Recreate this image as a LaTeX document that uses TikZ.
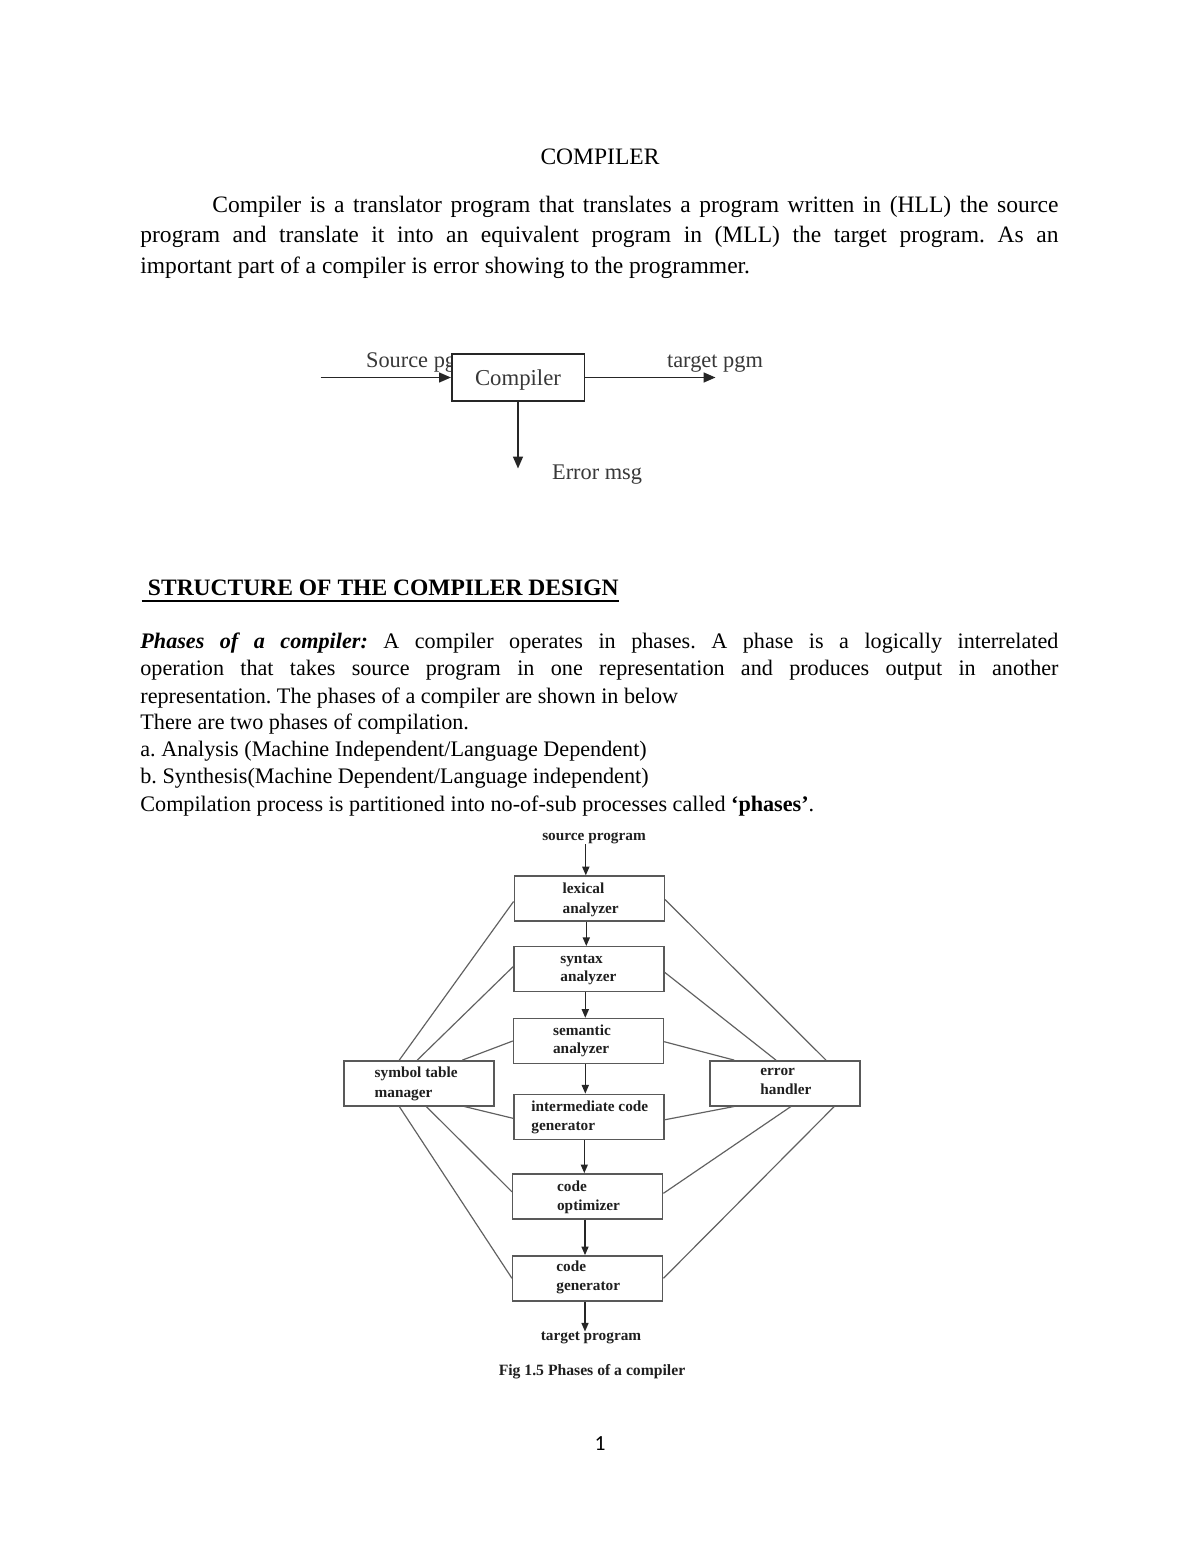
\documentclass[tikz,border=0pt]{standalone}
\usepackage{fontspec}
\setmainfont{Liberation Serif}
\newfontfamily\calibri{Carlito}
\usetikzlibrary{arrows.meta,calc}
\frenchspacing
\tikzset{
  bodytext/.style={inner sep=0pt, anchor=base west, font=\fontsize{12}{14}\selectfont},
  phtext/.style={inner sep=0pt, anchor=base west, font=\fontsize{11.3}{13.8}\selectfont},
  toptext/.style={inner sep=0pt, anchor=base west, text=black!78, font=\fontsize{11.4}{13}\selectfont},
  topbox/.style={draw=black!85, line width=0.8pt, fill=white, minimum width=67.6pt, minimum height=24pt, inner sep=0pt, text depth=0pt, text=black!78, font=\fontsize{11.6}{13}\selectfont},
  toparr/.style={draw=black!85, line width=0.8pt, -{Triangle[length=6pt,width=5pt]}},
  phbox/.style={draw=black!65, line width=0.75pt, fill=white, minimum width=76.5pt, minimum height=22.9pt, inner sep=0pt},
  boxlabel/.style={inner sep=0pt, anchor=base west, text=black!88, font=\bfseries\fontsize{7.8}{9}\selectfont},
  flowarr/.style={draw=black!85, line width=0.7pt, -{Triangle[length=4.4pt,width=3.6pt]}},
  link/.style={draw=black!62, line width=0.6pt}
}
\begin{document}
\begin{tikzpicture}[x=0.51pt,y=-0.51pt]
\useasboundingbox[fill=white] (0,0) rectangle (1200,1553);

% ---- title and first paragraph
\node[bodytext, anchor=base] (title) at (600,164.5) {COMPILER};
\node[bodytext] (p1a) at (212,212.5) {\makebox[431.5pt][s]{Compiler is a translator program that translates a program written in (HLL) the source}};
\node[bodytext] (p1b) at (140,243) {\makebox[468.2pt][s]{program and translate it into an equivalent program in (MLL) the target program. As an}};
\node[bodytext] (p1c) at (140,273.5) {important part of a compiler is error showing to the programmer.};

% ---- top diagram
\node[toptext] (srclbl) at (365.7,367.7) {Source pg};
\node[toptext] (tgtlbl) at (666.7,367.7) {target pgm};
\node[toptext] (errlbl) at (551.7,479) {Error msg};
\node[topbox] (comp) at (518,377.5) {Compiler};
\coordinate (inpt) at (320.7,377.5);
\coordinate (outpt) at (715.5,377.5);
\coordinate (errpt) at (518,468.5);
\draw[toparr] (inpt) -- (comp.west);
\draw[toparr] (comp.east) -- (outpt);
\draw[toparr] (comp.south) -- (errpt);

% ---- section heading
\node[inner sep=0pt, anchor=base west, font=\bfseries\fontsize{12}{14}\selectfont] (head) at (141.7,595.5) {\ STRUCTURE OF THE COMPILER DESIGN};
\draw[line width=1.1pt] ($(head.base west)+(0,5.5)$) -- ($(head.base east)+(0,5.5)$);

% ---- phases paragraph
\node[phtext] (q1) at (140,648) {\makebox[468.2pt][s]{\textbf{\textit{Phases of a compiler:}} A compiler operates in phases. A phase is a logically interrelated}};
\node[phtext] (q2) at (140,675) {\makebox[468.2pt][s]{operation that takes source program in one representation and produces output in another}};
\node[phtext] (q3) at (140,703) {representation. The phases of a compiler are shown in below};
\node[phtext] (q4) at (140,729.5) {There are two phases of compilation.};
\node[phtext] (q5) at (140,756.5) {a. Analysis (Machine Independent/Language Dependent)};
\node[phtext] (q6) at (140,783.5) {b. Synthesis(Machine Dependent/Language independent)};
\node[phtext] (q7) at (140,811) {Compilation process is partitioned into no-of-sub processes called \textbf{‘phases’}.};

% ---- phases diagram: boxes
\node[phbox] (lex) at (589.3,898.5) {};
\node[phbox] (syn) at (588.8,969.2) {};
\node[phbox] (sem) at (588.5,1041) {};
\node[phbox] (inter) at (588.8,1116.8) {};
\node[phbox] (opt) at (587.7,1196.3) {};
\node[phbox] (gen) at (587.7,1278.3) {};
\node[phbox] (sym) at (419,1083.3) {};
\node[phbox] (err) at (785,1083.3) {};

% box labels
\node[boxlabel] (lexA) at (562.3,893.8) {lexical};
\node[boxlabel] (lexB) at (562.3,913.2) {analyzer};
\node[boxlabel] (synA) at (560,963.2) {syntax};
\node[boxlabel] (synB) at (560,981.2) {analyzer};
\node[boxlabel] (semA) at (552.7,1035.2) {semantic};
\node[boxlabel] (semB) at (552.7,1053.8) {analyzer};
\node[boxlabel] (symA) at (374.3,1077.8) {symbol table};
\node[boxlabel] (symB) at (374.3,1097.2) {manager};
\node[boxlabel] (intA) at (531,1111.8) {intermediate code};
\node[boxlabel] (intB) at (531,1130.5) {generator};
\node[boxlabel] (optA) at (556.7,1191.8) {code};
\node[boxlabel] (optB) at (556.7,1210.2) {optimizer};
\node[boxlabel] (genA) at (556,1271.8) {code};
\node[boxlabel] (genB) at (556,1290.5) {generator};
\node[boxlabel] (errA) at (760,1075.5) {error};
\node[boxlabel] (errB) at (760,1094.5) {handler};

\node[boxlabel, anchor=base] (srcp) at (594,840.5) {source program};
\node[boxlabel, anchor=base] (tgtp) at (591,1340.5) {target program};
\node[boxlabel, anchor=base, font=\bfseries\fontsize{8}{9}\selectfont] (cap) at (592,1375.5) {Fig 1.5 Phases of a compiler};

% flow arrows
\draw[flowarr] ($(srcp.south -| lex.north)+(-3.5,0)$) -- ($(lex.north)+(-3.5,0)$);
\draw[flowarr] ($(lex.south)+(-3,0)$) -- ($(lex.south |- syn.north)+(-3,0)$);
\draw[flowarr] ($(syn.south)+(-3.5,0)$) -- ($(syn.south |- sem.north)+(-3.5,0)$);
\draw[flowarr] ($(sem.south)+(-3.2,0)$) -- ($(sem.south |- inter.north)+(-3.2,0)$);
\draw[flowarr] ($(inter.south)+(-4.5,0)$) -- ($(inter.south |- opt.north)+(-4.5,0)$);
\draw[flowarr] ($(opt.south)+(-2.7,0)$) -- ($(opt.south |- gen.north)+(-2.7,0)$);
\draw[flowarr] ($(gen.south)+(-2.7,0)$) -- ($(gen.south |- tgtp.north)+(-2.7,0)$);

% symbol table links
\draw[link] ($(sym.north west)+(56,0)$) -- ($(lex.west)+(0,3)$);
\draw[link] ($(sym.north west)+(74,0)$) -- ($(syn.west)+(0,-2.5)$);
\draw[link] ($(sym.north west)+(119,0)$) -- (sem.west);
\draw[link] ($(sym.south west)+(121,0)$) -- ($(inter.west)+(0,1.5)$);
\draw[link] ($(sym.south west)+(83,0)$) -- ($(opt.west)+(0,-4.5)$);
\draw[link] ($(sym.south west)+(56,0)$) -- (gen.west);

% error handler links
\draw[link] ($(lex.east)+(0,1)$) -- ($(err.north west)+(116.7,0)$);
\draw[link] ($(syn.east)+(0,3)$) -- ($(err.north west)+(66.7,0)$);
\draw[link] ($(sem.east)+(0,0.7)$) -- ($(err.north west)+(25,0)$);
\draw[link] ($(inter.east)+(0,3)$) -- ($(err.south west)+(25,0)$);
\draw[link] ($(opt.east)+(0,-3)$) -- ($(err.south west)+(81.7,0)$);
\draw[link] (gen.east) -- ($(err.south west)+(125,0)$);

% page number
\node[inner sep=0pt, anchor=base, font=\calibri\fontsize{11}{13}\selectfont] (pnum) at (600,1450) {1};
\end{tikzpicture}
\end{document}
